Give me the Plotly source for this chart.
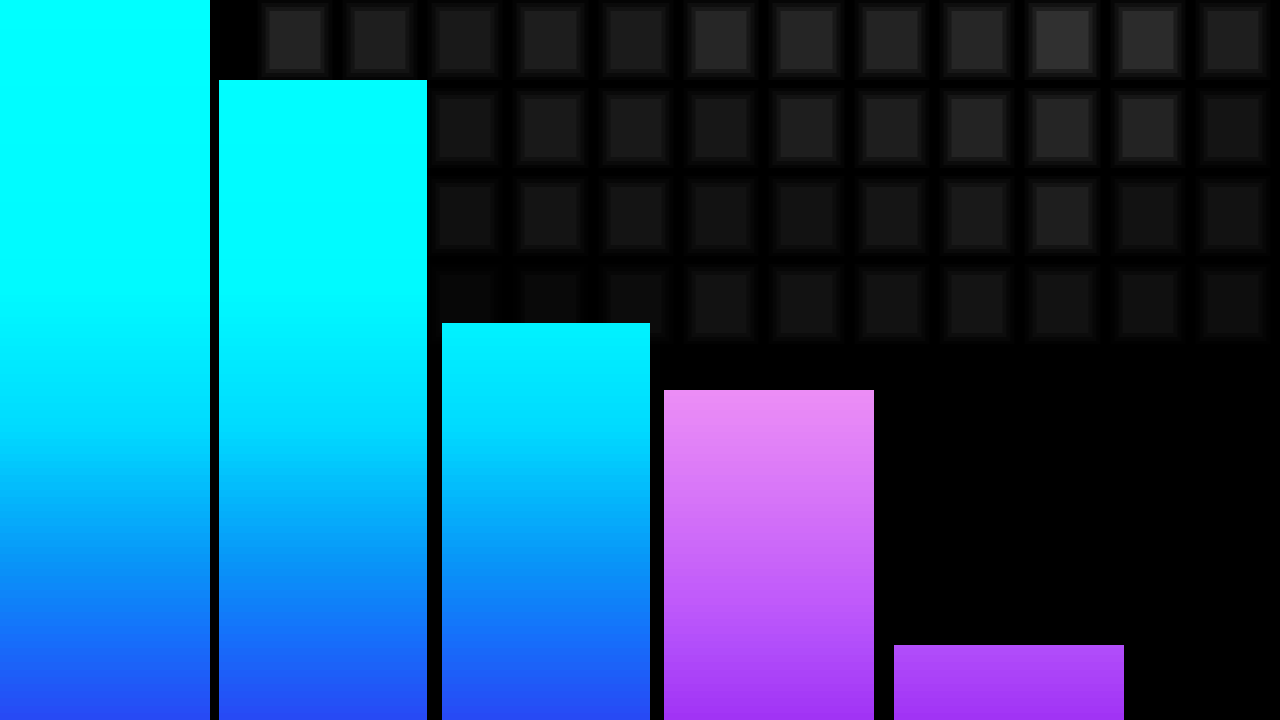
import numpy as np
import plotly.graph_objects as go

# ---------------- data ----------------
categories = ["A", "B", "C", "D", "E"]
values = [106.0, 88.9, 55.1, 45.8, 10.4]          # bar heights (axis 0-100, first bar clipped)
color_group = ["blue", "blue", "blue", "purple", "purple"]

# blurred background grid of dark squares (gray level 0-70)
bg_x = [295, 380, 465, 550, 636, 721, 806, 892, 977, 1062, 1148, 1233]
bg_y = [40, 128, 216, 304]
bg_z = [
    [38, 33, 28, 32, 30, 42, 40, 38, 42, 52, 46, 33],
    [20, 20, 23, 28, 28, 25, 33, 34, 38, 40, 38, 23],
    [14, 14, 18, 23, 23, 20, 21, 24, 28, 33, 20, 20],
    [7, 7, 9, 11, 14, 20, 20, 20, 23, 20, 18, 16],
]

# ---------------- style ----------------
W, H = 1280, 720
BAR_LEFT_PX = [0, 219, 442, 664, 894]
BAR_RIGHT_PX = [210, 427, 650, 874, 1124]
UNIT_PX = 222.0
CENTER0_PX = 105.0

gradient_stops = {
    "blue": [(0, (0, 255, 255)), (290, (0, 250, 255)), (430, (0, 218, 255)),
             (560, (8, 150, 248)), (640, (22, 110, 250)), (720, (40, 72, 245))],
    "purple": [(0, (238, 145, 246)), (390, (236, 142, 246)), (500, (214, 116, 248)),
               (600, (192, 90, 250)), (645, (178, 78, 250)), (720, (160, 50, 245))],
}


def color_at(group, py):
    stops = gradient_stops[group]
    ys = [s[0] for s in stops]
    rgb = [int(round(np.interp(py, ys, [s[1][k] for s in stops]))) for k in range(3)]
    return "rgb(%d,%d,%d)" % tuple(rgb)


offsets = [(l - CENTER0_PX) / UNIT_PX - i for i, l in enumerate(BAR_LEFT_PX)]
widths = [(r - l) / UNIT_PX for l, r in zip(BAR_LEFT_PX, BAR_RIGHT_PX)]

fig = go.Figure()

gray_scale = [[0, "rgb(0,0,0)"], [1, "rgb(70,70,70)"]]
# soft glow layers + squares (approximating the blur)
for gx, gy, op in [(10, 8, 0.15), (18, 14, 0.25), (26, 22, 0.4), (34, 30, 0.85)]:
    fig.add_trace(go.Heatmap(
        x=bg_x, y=bg_y, z=bg_z,
        colorscale=gray_scale, zmin=0, zmax=70,
        xgap=gx, ygap=gy, opacity=op, showscale=False, hoverinfo="skip",
        xaxis="x", yaxis="y",
    ))

# gradient bars built from stacked bands
n_bands = 120
edges = np.linspace(0, 120, n_bands + 1)
for b in range(n_bands):
    lo, hi = edges[b], edges[b + 1]
    seg = [max(0.0, min(v, hi) - lo) for v in values]
    if max(seg) <= 0:
        continue
    py = H * (1 - (lo + hi) / 2 / 100.0)
    cols = [color_at(g, py) for g in color_group]
    fig.add_trace(go.Bar(
        x=categories, y=seg, base=[lo] * len(categories),
        width=widths, offset=offsets,
        marker=dict(color=cols, line=dict(width=0)),
        xaxis="x2", yaxis="y2", hoverinfo="skip", showlegend=False,
    ))

fig.update_layout(
    width=W, height=H,
    margin=dict(l=0, r=0, t=0, b=0),
    paper_bgcolor="black", plot_bgcolor="black",
    barmode="overlay", bargap=0,
    showlegend=False,
    xaxis=dict(range=[0, W], visible=False, fixedrange=True),
    yaxis=dict(range=[H, 0], visible=False, fixedrange=True),
    xaxis2=dict(overlaying="x", type="category", categoryorder="array",
                categoryarray=categories,
                range=[-CENTER0_PX / UNIT_PX, (W - CENTER0_PX) / UNIT_PX],
                visible=False, fixedrange=True),
    yaxis2=dict(overlaying="y", range=[0, 100], visible=False, fixedrange=True),
)

fig.write_html(
    "out.html",
    config={"displayModeBar": False},
    post_script="document.body.style.margin='0';document.body.style.background='black';"
                "document.body.style.overflow='hidden';",
)
